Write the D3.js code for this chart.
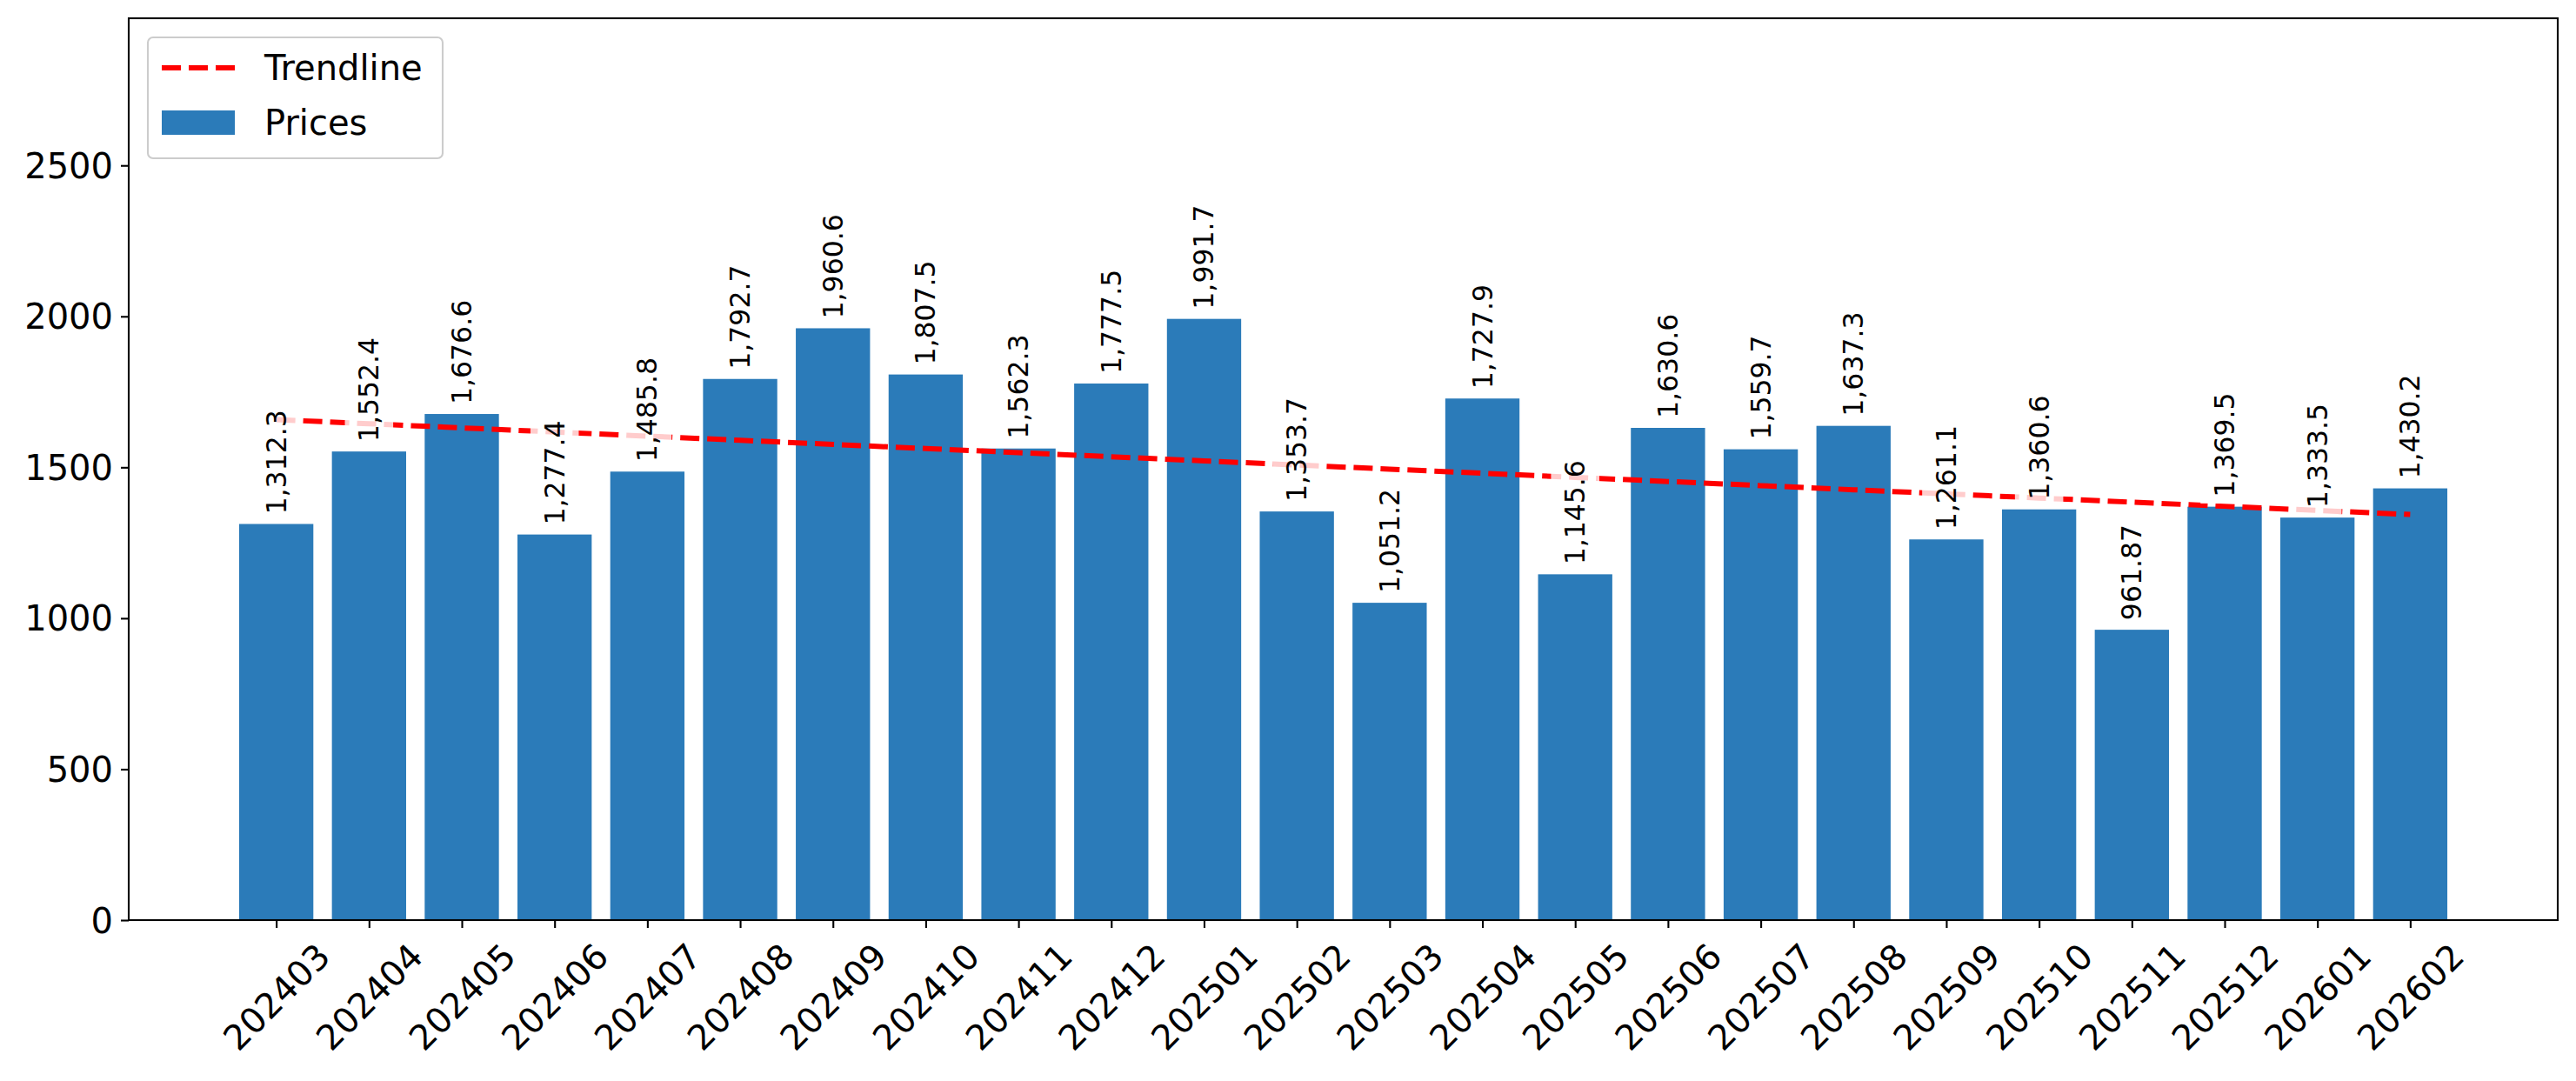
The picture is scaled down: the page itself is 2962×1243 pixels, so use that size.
<!DOCTYPE html>
<html>
<head>
<meta charset="utf-8">
<script src="https://cdn.jsdelivr.net/npm/d3@7"></script>
<style>
  body { margin: 0; background: #fff; }
  text { font-family: "DejaVu Sans", sans-serif; }
</style>
</head>
<body>
<script>
var months = ["202403","202404","202405","202406","202407","202408","202409","202410",
              "202411","202412","202501","202502","202503","202504","202505","202506",
              "202507","202508","202509","202510","202511","202512","202601","202602"];
var prices = [1312.3, 1552.4, 1676.6, 1277.4, 1485.8, 1792.7, 1960.6, 1807.5,
              1562.3, 1777.5, 1991.7, 1353.7, 1051.2, 1727.9, 1145.6, 1630.6,
              1559.7, 1637.3, 1261.1, 1360.6, 961.87, 1369.5, 1333.5, 1430.2];
var yTicks = [0, 500, 1000, 1500, 2000, 2500];
var legendItems = ["Trendline", "Prices"];

var W = 2962, H = 1243;
var margin = {top: 21, right: 21, bottom: 185, left: 148};
var width = W - margin.left - margin.right;
var height = H - margin.top - margin.bottom;

var barColor = "#2b7bb9";
var tickFont = 40, labelFont = 31.5;
var trendW = 6, trendDash = "22 9";

var svg = d3.select("body").append("svg")
  .attr("width", W).attr("height", H)
  .style("background", "#fff");

var g = svg.append("g")
  .attr("transform", "translate(" + margin.left + "," + margin.top + ")");

// matplotlib style margins around bars (0.05 of the data span)
var n = months.length;
var span = (n - 1 + 0.8);
var pad = span * 0.05;
var xScale = d3.scaleLinear().domain([-0.4 - pad, n - 1 + 0.4 + pad]).range([0, width]);
var yScale = d3.scaleLinear().domain([0, d3.max(prices) * 1.5]).range([height, 0]);
var barW = xScale(0.8) - xScale(0);

// bars
g.selectAll("rect.bar")
  .data(prices)
  .enter().append("rect")
  .attr("class", "bar")
  .attr("x", function(d, i) { return xScale(i - 0.4); })
  .attr("y", function(d) { return yScale(d); })
  .attr("width", barW)
  .attr("height", function(d) { return height - yScale(d); })
  .attr("fill", barColor);

// least squares trend
var idx = d3.range(n);
var mx = d3.mean(idx), my = d3.mean(prices);
var sxy = d3.sum(idx, function(i) { return (i - mx) * (prices[i] - my); });
var sxx = d3.sum(idx, function(i) { return (i - mx) * (i - mx); });
var slope = sxy / sxx, icpt = my - slope * mx;
var trend = idx.map(function(i) { return [i, icpt + slope * i]; });

var line = d3.line()
  .x(function(d) { return xScale(d[0]); })
  .y(function(d) { return yScale(d[1]); });

g.append("path")
  .datum(trend)
  .attr("d", line)
  .attr("fill", "none")
  .attr("stroke", "#ff0000")
  .attr("stroke-width", trendW)
  .attr("stroke-dasharray", trendDash);

// value labels with translucent white box
var fmt = d3.format(",");
var labels = g.selectAll("g.lbl")
  .data(prices)
  .enter().append("g")
  .attr("class", "lbl")
  .attr("transform", function(d, i) {
    return "translate(" + xScale(i) + "," + (yScale(d) - 11) + ") rotate(-90)";
  });
labels.append("rect").attr("class", "box");
labels.append("text")
  .attr("dominant-baseline", "central")
  .attr("font-size", labelFont)
  .attr("fill", "#000")
  .text(function(d) { return fmt(d); });
labels.each(function() {
  var t = d3.select(this).select("text");
  var len = t.node().getComputedTextLength();
  var p = 0.3 * labelFont, hh = 1.164 * labelFont;
  d3.select(this).select("rect")
    .attr("x", -p + 2).attr("y", -hh / 2 - p)
    .attr("width", len + 2 * p).attr("height", hh + 2 * p)
    .attr("fill", "#fff").attr("fill-opacity", 0.8);
});

// axes
var xAxis = d3.axisBottom(xScale)
  .tickValues(idx)
  .tickFormat(function(i) { return months[i]; })
  .tickSize(9).tickPadding(9);
var yAxis = d3.axisLeft(yScale)
  .tickValues(yTicks)
  .tickFormat(d3.format("d"))
  .tickSize(9).tickPadding(9);

var gx = g.append("g").attr("transform", "translate(0," + height + ")").call(xAxis);
var gy = g.append("g").call(yAxis);

[gx, gy].forEach(function(a) {
  a.select(".domain").remove();
  a.selectAll(".tick line").attr("stroke", "#000").attr("stroke-width", 2.1);
  a.selectAll(".tick text").attr("font-size", tickFont).attr("fill", "#000")
    .attr("font-family", "DejaVu Sans, sans-serif");
});

gx.selectAll(".tick text").each(function() {
  var t = d3.select(this);
  var w = this.getComputedTextLength();
  var hgt = 1.164 * tickFont;
  var cy = 18 + (w + hgt) / (2 * Math.SQRT2);
  t.attr("y", null).attr("dy", null)
    .attr("text-anchor", "middle")
    .attr("dominant-baseline", "central")
    .attr("transform", "translate(0," + cy + ") rotate(-45)");
});
gy.selectAll(".tick text").attr("dy", null).attr("dominant-baseline", "central");

// frame
g.append("rect")
  .attr("width", width).attr("height", height)
  .attr("fill", "none").attr("stroke", "#000").attr("stroke-width", 2.1);

// legend
var leg = g.append("g").attr("transform", "translate(22,22)");
leg.append("rect")
  .attr("width", 339).attr("height", 139)
  .attr("rx", 6).attr("ry", 6)
  .attr("fill", "#fff").attr("fill-opacity", 0.8)
  .attr("stroke", "#cccccc").attr("stroke-width", 2.1);

leg.append("line")
  .attr("x1", 16).attr("x2", 100).attr("y1", 35).attr("y2", 35)
  .attr("stroke", "#ff0000").attr("stroke-width", trendW)
  .attr("stroke-dasharray", trendDash);
leg.append("rect")
  .attr("x", 16).attr("y", 84).attr("width", 84).attr("height", 28)
  .attr("fill", barColor);

leg.selectAll("text.leg")
  .data(legendItems)
  .enter().append("text")
  .attr("class", "leg")
  .attr("x", 134)
  .attr("y", function(d, i) { return 35 + i * 63; })
  .attr("dominant-baseline", "central")
  .attr("font-size", tickFont)
  .attr("fill", "#000")
  .text(function(d) { return d; });
</script>
</body>
</html>
